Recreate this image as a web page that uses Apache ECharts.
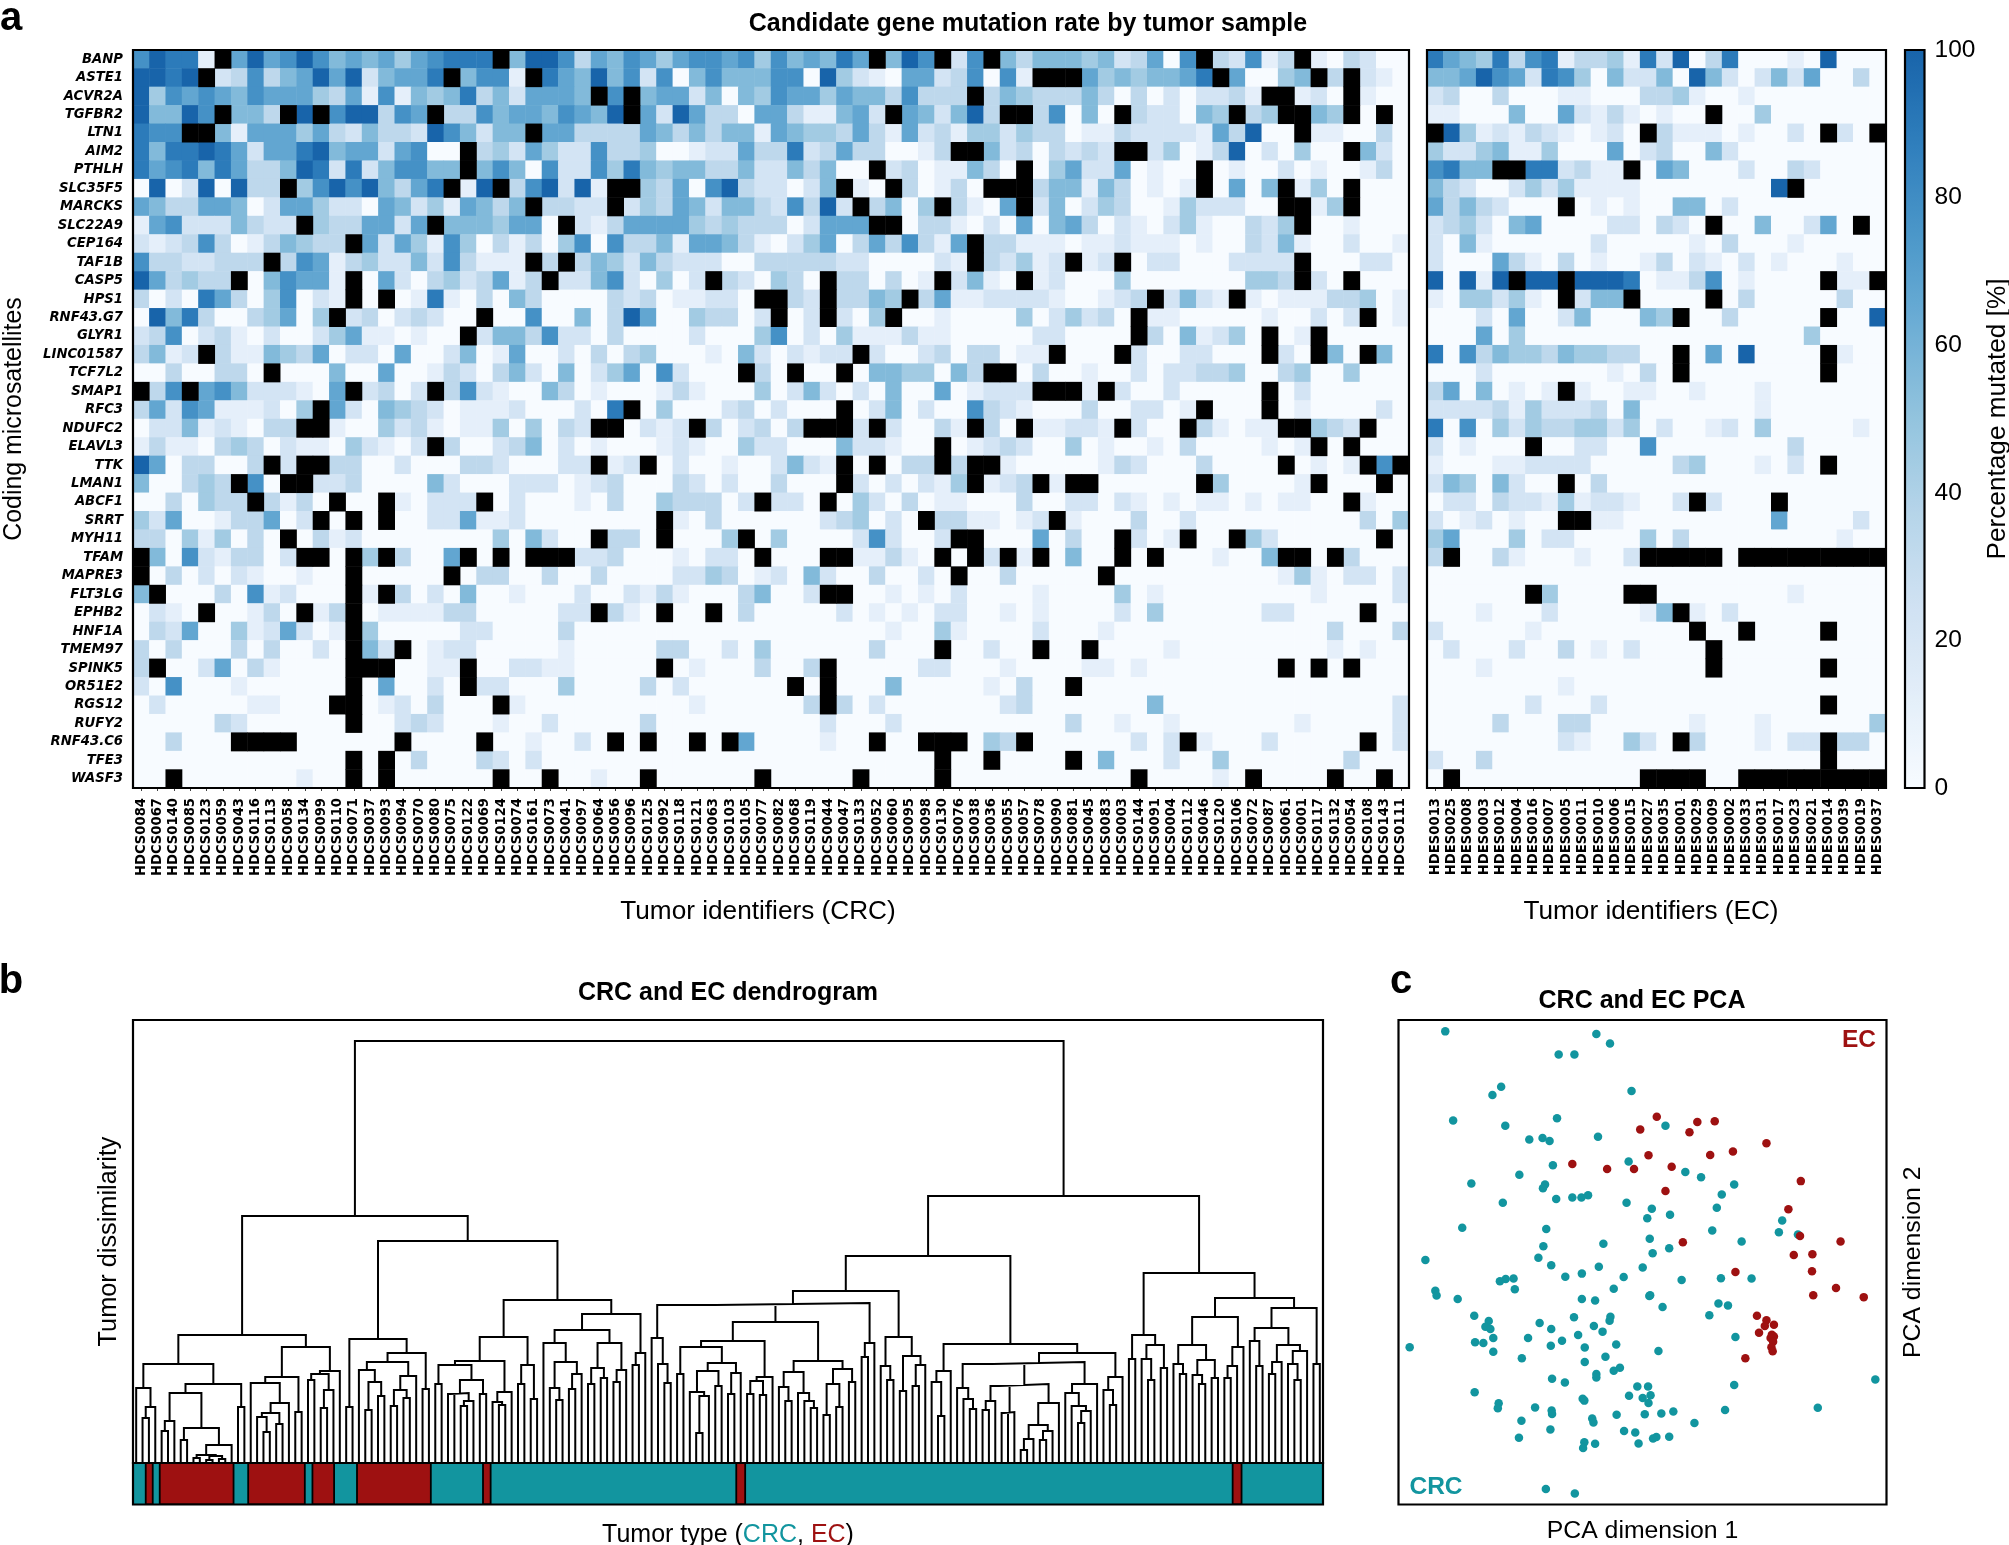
<!DOCTYPE html>
<html><head><meta charset="utf-8">
<style>html,body{margin:0;padding:0;background:#fff}#c{width:2009px;height:1545px}</style>
<script src="https://cdn.jsdelivr.net/npm/echarts@6/dist/echarts.min.js"></script>
</head><body><div id="c"></div>
<script>
const genes = ["BANP","ASTE1","ACVR2A","TGFBR2","LTN1","AIM2","PTHLH","SLC35F5","MARCKS","SLC22A9","CEP164","TAF1B","CASP5","HPS1","RNF43.G7","GLYR1","LINC01587","TCF7L2","SMAP1","RFC3","NDUFC2","ELAVL3","TTK","LMAN1","ABCF1","SRRT","MYH11","TFAM","MAPRE3","FLT3LG","EPHB2","HNF1A","TMEM97","SPINK5","OR51E2","RGS12","RUFY2","RNF43.C6","TFE3","WASF3"];
const crcSamples = "0084 0067 0140 0085 0123 0059 0043 0116 0113 0058 0134 0099 0110 0071 0037 0093 0094 0070 0080 0075 0122 0069 0124 0074 0161 0073 0041 0097 0064 0056 0096 0125 0092 0118 0121 0063 0103 0105 0077 0082 0068 0119 0044 0047 0133 0052 0060 0095 0098 0130 0076 0038 0036 0055 0057 0078 0090 0081 0045 0083 0003 0144 0091 0004 0112 0046 0120 0106 0072 0087 0061 0001 0117 0132 0054 0108 0143 0111".split(" ").map(s=>"HDCS"+s);
const ecSamples = "0013 0025 0008 0003 0012 0004 0016 0007 0005 0011 0010 0006 0015 0027 0035 0001 0029 0009 0002 0033 0031 0017 0023 0021 0014 0039 0019 0037".split(" ").map(s=>"HDES"+s);
// rate level per cell (0 = none ... 9 = highest), X = black cell
const crcLevels = [
"7 9 8 8 1 X 6 9 6 7 9 7 5 6 5 6 4 6 7 8 8 8 X 5 9 9 7 3 6 5 7 6 4 6 7  7 6 7 4 7 5 6 5 8 6 X 5 9 7 X 2 7 X 5 3 5 5 5 4 5 2 3 6 0 7 X 3 2 7 1 3 X 1 0 3 2 0 0",
"9 9 8 9 X 2 3 7 3 5 6 9 6 9 2 5 6 6 8 X 5 7 7 1 X 8 6 5 9 5 7 2 7 0 5  7 5 5 5 7 7 0 9 4 2 1 0 6 6 2 3 7 0 7 1 X X X 6 4 5 4 5 5 6 8 X 6 0 0 4 5 X 3 X 2 1 0",
"9 4 7 6 7 6 5 7 6 6 6 4 3 6 1 7 1 5 4 5 8 3 5 2 6 6 6 5 X 7 X 5 6 6 2  5 0 5 4 7 6 6 4 6 5 5 3 7 3 3 3 X 3 5 4 3 3 3 5 3 0 3 0 2 0 2 2 3 1 X X 1 2 0 X 1 0 0",
"9 5 5 9 7 X 5 5 3 X 9 X 7 9 9 3 7 6 X 3 3 7 5 6 6 5 7 6 5 9 X 6 2 9 6  3 3 0 6 6 3 1 1 5 6 2 X 6 5 2 5 9 3 X X 3 7 0 5 0 X 3 2 2 0 5 4 X 3 4 X X 5 4 X 0 X 0",
"8 7 7 X X 5 1 6 6 6 4 6 3 2 5 3 3 2 9 7 5 2 5 5 X 6 6 3 3 3 3 6 5 3 5  3 5 5 1 6 5 4 4 3 6 3 1 6 2 3 1 4 4 2 4 3 3 0 1 1 3 2 2 2 2 1 6 3 9 0 0 X 1 1 0 0 3 0",
"8 5 8 8 9 8 6 2 6 6 8 9 5 6 6 2 6 7 0 0 X 3 4 2 6 4 2 2 7 3 3 4 0 0 1  2 2 6 3 3 8 2 3 6 3 3 0 0 1 3 X X 5 2 3 0 3 2 3 2 X X 2 4 0 1 3 9 0 2 0 4 0 0 X 5 2 0",
"8 6 7 8 5 8 6 3 3 5 9 8 2 8 2 5 7 7 5 5 X 5 7 5 0 7 2 2 7 4 8 5 4 5 5  3 3 5 2 2 5 3 5 0 0 X 2 3 0 1 1 5 3 0 X 0 4 6 2 2 6 0 1 0 0 X 0 1 0 0 2 0 1 0 0 1 3 0",
"0 9 0 2 9 0 9 3 3 X 4 7 9 7 9 5 3 6 8 X 1 9 X 3 7 9 2 9 1 X X 4 3 6 0  7 9 3 2 2 0 2 5 X 1 0 X 3 0 1 3 0 X X X 3 5 5 1 5 3 0 1 0 1 X 0 6 0 5 X 1 4 0 X 0 0 0",
"6 5 3 3 6 6 5 0 2 6 6 4 2 2 0 6 5 2 4 1 6 5 3 5 X 3 3 2 2 X 2 4 3 6 5  2 5 5 3 2 7 3 9 2 X 3 5 0 4 X 3 1 0 6 X 2 5 0 2 4 3 0 0 1 4 2 2 2 0 0 X X 1 4 X 0 0 0",
"1 6 7 2 2 2 5 3 2 2 X 4 3 3 6 6 2 6 X 5 5 5 4 6 6 0 X 2 1 3 6 6 6 6 4  3 4 3 3 3 0 2 6 6 6 X X 0 3 3 1 0 2 0 6 0 5 6 3 0 2 1 0 2 4 1 0 0 3 2 4 X 0 0 1 0 0 0",
"2 1 2 3 7 3 0 1 3 5 4 3 3 X 6 2 6 4 1 7 4 0 3 1 3 0 4 7 0 7 3 3 5 1 6  6 5 3 1 0 2 4 6 0 3 6 3 7 3 1 6 X 3 3 1 1 1 0 1 1 2 1 1 1 0 1 0 0 3 2 5 1 0 0 2 0 0 1",
"7 3 3 2 2 3 3 3 X 3 7 6 1 3 4 2 2 5 2 7 3 1 1 1 X 3 X 3 5 4 2 5 3 2 2  2 0 0 3 3 3 3 3 2 2 0 0 0 0 2 1 X 3 2 4 1 2 X 1 2 X 0 2 2 0 0 0 2 2 2 2 X 0 0 0 2 2 0",
"9 6 3 4 3 3 X 0 5 7 6 6 1 X 0 6 2 0 3 4 2 3 6 1 3 X 2 2 5 7 2 0 4 0 2  X 3 2 0 4 3 0 X 3 3 0 3 0 1 X 2 5 1 0 X 1 2 0 0 0 4 0 0 0 0 0 0 0 4 4 3 X 2 0 X 0 0 0",
"3 0 2 0 8 6 3 0 4 7 0 2 1 X 0 X 0 1 8 1 0 3 0 5 3 0 0 0 0 3 2 3 0 1 1  2 2 0 X X 3 2 X 3 3 5 4 X 3 6 1 1 2 2 2 2 1 0 0 1 2 3 X 2 5 2 1 X 1 0 1 1 1 3 3 4 0 1",
"0 9 5 8 3 0 0 3 4 6 0 4 X 2 3 0 2 3 2 0 0 X 0 0 7 0 0 5 0 3 9 6 0 0 4  3 3 0 2 X 0 2 X 2 0 4 X 0 0 1 0 0 0 0 4 0 2 4 2 3 0 X 1 1 0 0 0 0 0 1 0 0 2 0 2 X 0 1",
"2 3 7 0 2 3 1 0 2 0 0 2 4 6 1 1 0 1 0 0 X 2 5 5 3 7 2 2 0 3 0 0 0 0 2  0 0 0 4 7 0 2 0 4 1 1 1 3 1 1 0 0 0 0 0 2 2 0 0 0 0 X 3 0 5 1 2 4 0 X 0 1 X 0 0 0 0 0",
"3 5 1 2 X 3 1 1 5 4 3 6 0 2 2 0 6 0 0 2 5 0 1 6 0 0 2 0 3 0 3 4 0 0 0  1 0 5 2 0 2 1 2 2 X 2 0 0 2 3 0 3 3 0 1 1 X 0 0 0 X 2 0 0 2 2 0 0 0 X 2 0 X 5 0 X 5 0",
"0 0 3 0 0 3 3 0 X 0 0 0 5 0 0 6 0 0 1 3 2 0 3 5 2 0 5 0 2 4 6 0 7 2 0  0 0 X 3 0 X 0 0 X 0 5 5 4 4 0 5 3 X X 0 3 0 0 1 0 0 2 0 2 2 3 3 4 0 0 3 4 0 0 4 0 0 0",
"X 3 7 X 6 7 5 2 2 2 1 0 6 X 2 3 0 2 X 3 7 2 1 0 0 5 3 0 1 0 0 0 1 3 1  0 0 0 4 0 2 5 2 0 2 0 5 0 0 6 0 1 2 2 2 X X X 1 X 2 0 0 2 0 0 0 0 0 X 0 2 0 0 0 0 0 0",
"3 6 2 7 6 1 1 1 2 0 4 X 6 2 0 5 4 3 2 0 1 1 1 2 0 0 0 2 0 8 X 0 4 0 0  0 2 3 0 2 0 0 0 X 0 2 5 0 2 0 0 7 3 2 1 0 0 0 3 0 0 2 2 0 1 X 0 0 0 X 0 1 0 0 0 0 2 0",
"0 2 2 5 1 2 1 0 3 3 X X 1 0 0 4 2 3 1 0 1 1 4 0 4 0 3 2 X X 0 2 1 2 X  3 0 2 3 0 3 X X X 2 X 2 0 0 3 1 X 3 0 X 1 1 2 2 1 X 2 0 0 X 3 1 0 1 1 X X 4 3 2 X 0 0",
"1 3 1 1 0 3 4 3 0 2 1 1 0 4 2 1 0 2 X 3 0 0 2 3 5 0 2 0 1 0 0 0 1 2 1  0 0 4 2 2 0 0 0 5 2 2 1 0 0 X 0 1 2 3 2 0 0 4 0 1 0 0 1 0 3 0 0 0 0 1 0 1 X 0 X 0 0 0",
"9 6 0 3 3 0 0 3 X 2 X X 3 3 0 0 2 0 0 0 3 3 2 0 0 0 2 2 X 1 2 X 0 2 0  0 1 0 0 2 5 2 1 X 0 X 0 3 3 X 3 X X 1 0 0 0 0 0 1 3 2 0 0 0 3 0 0 0 0 X 0 1 0 1 X 7 X",
"5 0 0 3 4 3 X 7 0 X X 2 2 3 0 0 0 0 5 2 0 0 0 2 2 2 0 1 2 3 0 0 0 3 2  0 2 0 0 3 0 0 0 X 2 0 2 0 2 1 4 X 1 2 3 X 1 X X 0 0 0 0 0 0 X 4 0 0 0 0 1 X 0 0 0 X 0",
"0 0 3 0 4 3 3 X 3 1 3 0 X 0 0 X 1 0 2 2 2 X 0 2 0 0 0 1 0 3 0 0 4 3 3  3 0 2 X 2 2 0 X 0 4 2 0 3 0 1 1 0 0 0 3 0 0 2 2 0 2 1 0 1 0 1 1 0 1 0 1 1 0 0 X 1 0 0",
"4 2 6 0 0 1 3 3 6 0 2 X 0 X 0 X 0 0 2 2 6 1 1 2 0 0 0 0 0 0 0 0 X 1 0  3 0 0 0 0 0 0 2 3 4 0 2 0 X 3 3 1 1 0 1 2 X 1 0 0 0 3 0 0 2 0 0 0 0 0 0 0 0 0 0 3 0 4",
"3 3 0 4 1 4 0 3 0 X 0 3 1 2 0 0 0 0 0 0 0 0 4 0 5 2 0 0 X 3 3 0 X 0 0  0 4 X 0 4 0 0 0 0 2 7 2 0 0 2 X X 0 0 0 6 0 3 0 0 X 2 0 1 X 0 0 X 4 2 0 0 0 0 0 0 X 0",
"X 5 0 7 2 1 3 3 0 2 X X 0 X 4 X 3 0 0 6 X 0 X 0 X X X 2 2 3 0 0 0 1 0  2 2 0 X 0 0 0 X X 1 1 3 1 0 X 0 X 2 X 1 X 0 5 0 0 X 0 X 0 0 0 1 0 0 5 X X 0 X 3 0 0 0",
"X 0 3 0 2 0 2 1 0 0 1 0 0 X 0 0 0 0 0 X 0 3 3 0 0 3 0 0 3 0 0 0 0 2 2  4 3 0 1 2 0 5 2 0 0 3 0 0 2 0 X 0 0 3 0 0 0 0 0 X 0 0 0 0 0 0 0 0 0 0 1 4 1 0 2 2 0 2",
"5 X 0 0 0 3 0 7 1 2 0 0 0 X 1 X 3 0 2 0 5 0 0 1 0 0 0 2 0 0 2 1 3 1 0  0 0 3 5 0 0 2 X X 0 0 1 0 1 0 2 0 0 0 0 1 0 0 0 0 4 0 1 0 0 0 0 0 0 0 0 0 1 0 0 0 0 2",
"0 2 1 0 X 0 0 1 3 0 X 1 3 X 0 1 1 1 1 3 3 0 0 0 0 0 2 2 X 3 1 0 X 0 0  X 0 3 0 0 0 0 0 2 0 1 0 1 0 2 2 0 0 1 0 1 0 0 0 0 2 0 4 0 0 0 0 0 0 2 2 0 0 0 0 X 0 0",
"0 3 2 6 0 0 4 1 2 6 2 0 1 X 4 0 0 0 0 0 2 2 0 0 0 0 3 0 0 0 0 0 0 0 0  0 0 0 0 0 0 0 0 0 0 0 1 0 0 4 1 0 0 0 0 2 0 0 0 1 0 0 0 0 0 0 0 0 0 0 0 0 0 3 0 0 0 3",
"3 0 3 0 0 0 3 0 3 0 0 2 0 X 5 2 X 0 1 2 2 0 0 0 0 0 1 0 0 0 0 0 3 3 0  0 2 0 4 0 0 0 0 0 0 3 0 0 0 X 0 0 2 0 0 X 0 0 X 0 0 0 0 1 0 0 0 0 0 0 0 0 0 1 0 1 0 0",
"3 X 0 0 2 6 0 3 1 0 0 0 0 X X X 0 0 1 1 X 0 0 2 2 1 1 0 0 0 0 0 X 0 1  0 0 0 3 0 0 3 X 0 0 0 0 0 2 2 0 0 0 1 0 0 0 0 1 1 0 1 0 0 0 0 0 0 0 0 X 0 X 0 X 0 0 0",
"2 0 7 0 0 0 1 0 0 0 0 0 0 X 0 6 0 0 2 0 X 2 2 0 0 0 4 0 0 0 0 3 0 2 0  0 0 0 0 0 X 0 X 0 0 0 5 0 0 0 0 0 1 0 3 0 0 X 0 0 0 0 0 0 0 0 0 0 0 0 0 0 0 0 0 0 0 0",
"0 2 0 0 0 0 0 1 1 0 0 0 X X 0 1 2 0 3 0 0 0 X 1 0 0 0 0 0 0 0 0 0 0 1  0 0 0 0 0 0 3 X 3 0 2 0 0 0 0 0 0 0 2 3 0 0 0 0 0 0 0 5 0 0 0 0 0 0 0 0 0 0 0 0 0 0 2",
"0 0 0 0 0 3 2 0 0 0 0 0 0 X 0 0 2 3 2 0 0 0 1 0 0 2 0 0 0 0 0 3 0 0 0  0 0 0 0 0 0 0 2 0 0 0 2 0 0 0 0 0 0 0 0 0 0 3 0 0 1 0 0 1 0 0 0 0 0 0 0 1 0 0 0 0 0 2",
"0 0 3 0 0 0 X X X X 0 0 0 0 0 0 X 0 0 0 0 X 0 0 1 0 0 2 0 X 0 X 0 0 X  0 X 6 0 0 0 0 1 0 0 X 0 0 X X X 0 4 3 X 0 0 0 0 0 0 2 0 2 X 1 0 0 0 2 0 0 0 0 0 X 0 2",
"0 0 0 0 0 0 0 0 0 0 0 0 0 X 0 X 0 3 0 0 0 3 2 0 2 0 0 0 0 0 0 0 0 0 0  0 0 0 0 0 0 0 0 0 0 0 0 0 0 X 0 0 X 0 0 0 0 X 0 5 0 0 0 2 0 0 4 0 0 0 0 0 0 0 3 0 0 0",
"0 0 X 0 0 0 0 0 0 0 1 0 0 X 0 X 0 0 0 0 0 0 X 0 0 X 0 0 1 0 0 X 0 0 0  0 0 0 X 0 0 0 0 0 X 0 0 0 0 X 0 0 0 0 0 0 0 0 0 0 0 X 0 0 0 0 1 0 X 0 0 0 0 X 0 0 X 0"
];
const ecLevels = [
"8 6 5 4 8 3 7 8 1 3 3 4 1 8 2 9 0 3 8 0 0 0 1 0 9 0 0 0",
"5 5 6 9 7 6 2 8 7 4 0 5 2 2 5 0 9 5 2 0 2 5 2 6 0 0 3 0",
"2 3 0 0 3 0 0 0 1 1 0 0 0 3 3 4 1 0 0 1 0 0 0 0 0 0 0 0",
"1 1 0 0 0 5 0 0 6 2 1 3 1 0 1 0 0 X 0 0 4 0 0 0 0 0 0 0",
"X 9 4 1 2 1 3 2 1 0 1 2 0 X 3 1 1 1 0 1 0 0 2 0 X 2 0 X",
"4 2 2 4 5 1 1 4 0 0 0 6 0 2 3 0 0 5 2 0 0 0 0 0 0 0 0 0",
"7 8 5 5 X X 8 8 2 3 1 1 X 0 6 5 0 0 0 2 0 0 3 2 0 0 0 0",
"5 3 2 0 0 2 4 2 4 1 1 1 1 0 0 0 0 0 0 0 0 9 X 0 0 0 0 0",
"6 3 5 3 2 0 0 0 X 0 1 0 1 0 0 5 5 0 2 0 0 0 0 0 0 0 0 0",
"2 3 4 2 0 5 6 0 0 0 0 2 2 0 3 2 0 X 0 0 5 0 0 2 6 0 X 0",
"2 0 5 1 0 0 0 0 0 0 2 0 0 0 0 0 1 0 3 0 0 0 1 0 0 0 0 0",
"2 0 0 0 6 3 1 0 3 0 1 0 0 1 3 0 2 1 0 2 0 1 0 0 0 1 0 0",
"9 0 9 1 9 X 9 9 X 9 9 9 8 0 1 1 3 7 0 1 0 0 0 0 X 1 1 X",
"1 0 4 4 2 4 1 0 X 2 5 5 X 0 0 0 0 X 0 3 0 0 0 0 0 3 0 0",
"0 0 0 2 0 6 0 0 2 5 0 0 0 5 4 X 0 0 3 0 0 0 0 0 X 0 0 9",
"0 0 0 6 0 4 0 0 0 0 0 0 0 0 0 0 0 0 0 0 0 0 0 4 0 0 0 0",
"8 0 7 3 5 4 4 3 5 4 4 3 3 0 0 X 0 6 0 9 0 0 0 0 X 1 0 0",
"0 0 0 2 0 0 0 0 0 0 0 1 0 3 0 X 0 0 0 0 0 0 0 0 X 0 0 0",
"3 6 0 5 0 1 0 1 X 1 0 0 1 1 0 0 1 0 0 0 1 0 0 0 0 0 0 0",
"2 2 2 2 3 1 4 2 2 2 3 0 5 0 0 0 0 0 0 0 1 0 0 0 0 0 0 0",
"8 0 7 0 4 2 4 3 3 4 4 2 4 0 2 0 0 1 2 0 4 0 0 0 0 0 1 0",
"2 0 1 0 0 0 X 0 0 2 2 0 0 7 0 0 0 0 0 0 0 0 3 0 0 0 0 0",
"1 0 0 0 1 1 2 2 2 2 0 0 0 0 0 3 4 0 0 0 1 0 2 0 X 0 0 0",
"2 5 4 0 5 2 0 0 X 0 3 0 0 0 0 0 0 0 0 0 0 0 0 0 0 0 0 0",
"0 2 2 0 3 2 2 1 4 1 2 2 1 0 0 2 X 2 0 0 0 X 0 0 0 0 0 0",
"2 0 1 2 0 1 0 0 X X 1 1 0 0 0 0 0 0 0 0 0 6 0 0 0 0 2 0",
"4 6 0 0 0 4 0 2 2 0 0 0 0 4 0 3 0 0 0 0 0 0 0 0 0 1 0 0",
"3 X 0 0 3 1 0 0 0 1 0 0 2 X X X X X 0 X X X X X X X X X",
"0 0 0 0 0 0 0 0 0 0 0 0 0 0 0 0 0 0 0 0 0 0 0 0 0 0 0 0",
"0 0 0 0 0 0 X 4 0 0 0 0 X X 0 0 0 0 0 0 0 0 1 0 0 0 0 0",
"0 0 0 1 0 0 0 2 0 0 0 0 0 1 5 X 1 0 2 0 0 0 0 0 0 0 0 0",
"2 0 0 0 0 0 1 0 0 0 0 0 0 0 0 0 X 0 0 X 0 0 0 0 X 0 0 0",
"0 2 0 0 0 2 0 0 3 0 1 0 2 0 0 0 0 X 0 0 0 0 0 0 0 0 0 0",
"0 0 0 1 0 0 0 0 0 0 0 0 0 0 0 0 0 X 0 0 0 0 0 0 X 0 0 0",
"0 0 0 0 0 0 0 0 1 0 0 0 0 0 0 0 0 0 0 0 0 0 0 0 0 0 0 0",
"0 0 0 0 0 0 2 0 0 0 2 0 0 0 0 0 0 0 0 0 0 0 0 0 X 0 0 0",
"0 0 0 0 3 0 0 0 3 3 0 0 0 0 0 0 1 0 0 0 1 0 0 0 0 0 0 4",
"0 0 0 0 0 0 0 0 2 1 0 0 4 2 0 X 3 0 0 0 1 0 2 2 X 3 3 0",
"2 0 0 3 0 0 0 0 0 0 0 0 0 0 0 0 0 0 0 0 0 0 0 0 X 0 0 0",
"0 X 0 0 0 0 0 0 0 0 0 0 0 X X X X 0 0 X X X X X X X X X"
];
// dendrogram as nested [height, left, right]; 0 = a single tumor (leaf)
const clusterAL = [128,
  [99,[75,0,[56,[45,0,0],0]],[79,[70,[42,[32,0,0],0],[35,[23,0,0],[18,[8,[5,0,0],[7,[3,0,0],[4,0,0]]],0]]],[56,0,0]]],
  [116,[86,[80,0,[60,[50,[46,0,[31,0,0]],[39,0,0]],0]],[51,0,0]],[92,[89,[83,0,0],[73,[55,0,0],0]],0]]];
const clusterARL = [124,[56,0,0],[110,[101,[93,0,[81,[53,0,0],[67,0,0]]],[87,[73,[57,0,0],[65,0,0]],0]],[74,0,0]]];
const clusterARR = [163,
  [126,[102,[98,[79,0,0],[83,[70,[69,0,0],[62,[57,0,0],0]],[69,0,0]]],[71,[61,0,[58,0,0]],0]],[98,[79,0,0],[64,0,0]]],
  [149,[133,[120,0,[101,[75,0,[63,0,0]],[89,[74,0,0],0]]],[120,[95,[79,0,0],[85,0,0]],[93,[81,0,0],0]]],[110,[98,0,0],0]]];
const cluster122 = [122,[116,[89,0,0],[100,[92,[71,0,[67,[30,0,0],0]],[77,0,0]],[90,[69,0,0],0]]],[86,[82,[69,0,0],[68,0,0]],0]];
const cluster102 = [102,[91,[76,0,[62,0,0]],[70,0,[62,0,[55,0,0]]]],[94,[79,[48,0,0],[56,0,0]],[81,0,0]]];
const clusterBLL = [172,
  [160,[158,[125,0,[99,0,[80,0,0]]],[141,cluster122,cluster102]],[120,[106,0,0],0]],
  [126,[97,0,[83,0,0]],[107,[72,0,0],[98,[77,0,0],0]]]];
const cluster99 = [99,[75,0,[64,0,[54,0,0]]],[79,[77,[62,[53,0,0],0],[51,[50,0,0],0]],[60,[38,[24,[13,0,0],0],[32,[23,0,0],0]],0]]];
const cluster79 = [79,[70,0,[57,0,[52,[40,0,0],0]]],0];
const clusterBLR = [119,[92,[81,0,[47,0,0]],0],[110,[101,cluster99,cluster79],[86,[73,0,[58,0,0]],0]]];
const clusterBR = [190,[128,[104,0,0],[118,[104,0,[83,0,0]],[95,0,0]]],
  [165,[146,[118,[99,0,[89,0,0]],[103,[88,0,[79,0,0]],[85,0,0]]],[116,[97,[85,0,0],0],0]],
       [155,[135,[122,0,[97,0,0]],[118,[101,[89,0,0],0],[112,[99,0,[83,0,0]],0]]],[99,0,0]]]];
const dendrogram = [422,[247,[128,clusterAL[1],clusterAL[2]],[222,clusterARL,clusterARR]],[267,[207,clusterBLL,clusterBLR],clusterBR]];
// EC stretches of the tumor-type strip, in leaf positions; the rest is CRC
const ecStretches = [[2,3.1],[4.2,15.8],[18.1,27],[28.2,31.6],[35.2,46.8],[55,56.2],[94.8,96.2],[172.8,174.2]];
// PCA scores (arbitrary units, dimension 2 increases downward)
const pcaCRC = [[206,213],[571,220],[604,245],[480,274],[518,274],[341,359],[320,381],[656,370],[225,448],[351,462],[476,442],[738,462],[409,498],[441,494],[458,502],[575,491],[649,556],[466,566],[385,591],[269,614],[447,617],[442,627],[786,584],[824,598],[904,617],[874,643],[474,655],[513,651],[535,651],[551,645],[345,665],[644,665],[862,678],[705,681],[749,697],[694,706],[1020,712],[247,731],[450,734],[851,738],[1012,743],[1058,749],[700,760],[922,767],[588,773],[443,780],[747,785],[707,798],[158,816],[431,810],[462,830],[577,834],[683,836],[536,852],[496,860],[637,861],[352,866],[371,865],[338,872],[777,869],[872,864],[946,865],[374,893],[613,892],[182,897],[185,910],[236,919],[699,911],[701,909],[536,919],[568,923],[866,931],[889,936],[731,940],[276,963],[517,967],[844,962],[605,966],[603,976],[311,977],[434,982],[565,990],[303,992],[315,998],[462,998],[586,1005],[527,1014],[406,1022],[322,1022],[907,1019],[278,1033],[298,1035],[488,1029],[619,1039],[461,1042],[120,1046],[543,1047],[322,1058],[721,1056],[391,1075],[593,1071],[543,1085],[628,1100],[613,1108],[571,1117],[571,1126],[1245,1131],[464,1129],[495,1139],[904,1146],[670,1150],[696,1150],[277,1165],[702,1173],[650,1174],[683,1180],[538,1182],[542,1187],[697,1193],[335,1194],[333,1207],[423,1205],[1106,1206],[463,1213],[464,1222],[882,1212],[757,1216],[728,1221],[688,1223],[620,1224],[561,1234],[564,1245],[390,1240],[808,1246],[460,1263],[638,1267],[665,1271],[384,1285],[716,1283],[708,1287],[747,1282],[542,1297],[568,1301],[673,1300],[539,1312],[449,1420],[519,1432]];
const pcaEC = [[717,438],[677,472],[815,452],[857,450],[796,479],[982,508],[901,530],[846,539],[697,540],[513,563],[597,576],[662,576],[753,570],[1065,608],[738,634],[1035,682],[1063,753],[780,769],[1161,767],[1048,803],[1093,801],[907,848],[1092,846],[1150,890],[1095,909],[1217,914],[959,963],[982,975],[978,990],[1000,987],[964,1008],[995,1013],[1000,1018],[992,1022],[998,1032],[994,1046],[997,1057],[931,1075]];
const colorTicks = [0,20,40,60,80,100];

const TEAL = '#12959f', RED = '#9e1111';
const SANS = '"Liberation Sans", Arial, sans-serif', DEJA = '"DejaVu Sans", sans-serif';
const BLUES = ['#f7fbff','#e3eef9','#cfe1f2','#b5d4e9','#93c4de','#6daed5','#4b97c9','#2f7ebc','#1864aa'];

function cells(levels){
  const rates = [], missing = [];
  levels.forEach((row,y)=>row.trim().split(/\s+/).forEach((v,x)=>{
    if (v==='X') missing.push([x,y,1]); else rates.push([x,y,Math.min(100,+v*100/9)]);
  }));
  return {rates,missing};
}
const crc = cells(crcLevels), ec = cells(ecLevels);

// lay the tree out: leaves in order, each merge midway between its two children
let leafCount = 0; const links = [];
function place(n){
  if (n===0) return {x:(leafCount++)+0.5,h:0};
  const a = place(n[1]), b = place(n[2]);
  links.push([a.x,a.h],[a.x,n[0]],[b.x,n[0]],[b.x,b.h],null);
  return {x:(a.x+b.x)/2,h:n[0]};
}
place(dendrogram);

function heatX(cats,g){return {type:'category',gridIndex:g,data:cats,boundaryGap:true,axisLine:{show:false},
  axisTick:{show:true,length:3,alignWithLabel:true,lineStyle:{color:'#444',width:1}},splitLine:{show:false},
  axisLabel:{interval:0,rotate:90,margin:10,fontFamily:DEJA,fontWeight:'bold',fontSize:13.2,color:'#000'}};}
function bare(o){return Object.assign({axisLine:{show:false},axisTick:{show:false},axisLabel:{show:false},splitLine:{show:false}},o);}
function label(text,x,y,size,extra){return {text,left:x,top:y,padding:0,textAlign:'center',textVerticalAlign:'middle',
  textStyle:Object.assign({fontFamily:SANS,fontSize:size,fontWeight:'normal',color:'#000'},extra||{})};}
function nameFont(size){return {fontFamily:SANS,fontSize:size,color:'#000'};}
const frame = {show:true,borderColor:'#000',borderWidth:2.2,backgroundColor:'transparent',z:5,outerBoundsMode:'none',containLabel:false};

const option = {
  animation:false, backgroundColor:'#fff',
  title:[
    label('a',11,19,40,{fontWeight:'bold'}),
    label('b',11,982,40,{fontWeight:'bold'}),
    label('c',1401,982,40,{fontWeight:'bold'}),
    label('Candidate gene mutation rate by tumor sample',1028,24,25,{fontWeight:'bold'}),
    label('Tumor identifiers (CRC)',758,912,26.2),
    label('Tumor identifiers (EC)',1651,912,26.2),
    label('CRC and EC dendrogram',728,993.5,25,{fontWeight:'bold'}),
    label('CRC and EC PCA',1642,1001.5,25,{fontWeight:'bold'}),
    label('CRC',1436,1487.5,24.5,{fontWeight:'bold',color:TEAL}),
    label('EC',1859,1040,24.5,{fontWeight:'bold',color:RED})
  ],
  grid:[
    Object.assign({left:133,top:50,width:1276,height:738},frame),
    Object.assign({left:1427,top:50,width:459,height:738},frame),
    Object.assign({left:1905,top:50,width:19.5,height:738},frame),
    Object.assign({left:133,top:1020,width:1190,height:443},frame),
    Object.assign({left:133,top:1463,width:1190,height:41.5},frame),
    Object.assign({left:1398.5,top:1020,width:488,height:484.5},frame)
  ],
  xAxis:[
    heatX(crcSamples,0),
    heatX(ecSamples,1),
    bare({type:'value',gridIndex:2,min:0,max:1}),
    bare({type:'value',gridIndex:3,min:0,max:leafCount}),
    bare({type:'value',gridIndex:4,min:0,max:leafCount,name:'Tumor type ({c|CRC}, {e|EC})',nameLocation:'middle',nameGap:18,
      nameTextStyle:Object.assign(nameFont(25),{rich:{c:{color:TEAL,fontFamily:SANS,fontSize:25},e:{color:RED,fontFamily:SANS,fontSize:25}}})}),
    bare({type:'value',gridIndex:5,min:93,max:1272,name:'PCA dimension 1',nameLocation:'middle',nameGap:14,nameTextStyle:nameFont(24.8)})
  ],
  yAxis:[
    {type:'category',gridIndex:0,data:genes,inverse:true,axisLine:{show:false},axisTick:{show:false},splitLine:{show:false},
      axisLabel:{interval:0,margin:10,fontFamily:DEJA,fontWeight:'bold',fontStyle:'italic',fontSize:13.2,color:'#000'},
      name:'Coding microsatellites',nameLocation:'middle',nameGap:106,nameRotate:90,nameTextStyle:nameFont(24.9)},
    bare({type:'category',gridIndex:1,data:genes,inverse:true}),
    {type:'value',gridIndex:2,position:'right',min:colorTicks[0],max:colorTicks[colorTicks.length-1],interval:20,
      axisLine:{show:false},axisTick:{show:true,length:3,lineStyle:{color:'#000',width:1}},splitLine:{show:false},
      axisLabel:{margin:10,fontFamily:SANS,fontSize:24.5,color:'#000'},
      name:'Percentage mutated [%]',nameLocation:'middle',nameGap:60,nameRotate:90,nameTextStyle:nameFont(26.2)},
    bare({type:'value',gridIndex:3,min:0,max:443,name:'Tumor dissimilarity',nameLocation:'middle',nameGap:11,nameRotate:90,nameTextStyle:nameFont(25.3)}),
    bare({type:'value',gridIndex:4,min:0,max:1}),
    bare({type:'value',gridIndex:5,position:'right',min:183,max:1461,inverse:true,name:'PCA dimension 2',nameLocation:'middle',nameGap:14,nameRotate:90,nameTextStyle:nameFont(24.8)})
  ],
  visualMap:[{type:'continuous',seriesIndex:[0,2],min:0,max:100,calculable:false,realtime:false,hoverLink:false,
    left:1905,top:50,itemWidth:19.5,itemHeight:738,padding:0,text:['',''],showLabel:false,
    inRange:{color:BLUES},textStyle:{fontSize:0}}],
  series:[
    {type:'heatmap',xAxisIndex:0,yAxisIndex:0,data:crc.rates,itemStyle:{borderWidth:0},emphasis:{disabled:true},progressive:0},
    {type:'heatmap',xAxisIndex:0,yAxisIndex:0,data:crc.missing,itemStyle:{color:'#000'},emphasis:{disabled:true},progressive:0},
    {type:'heatmap',xAxisIndex:1,yAxisIndex:1,data:ec.rates,itemStyle:{borderWidth:0},emphasis:{disabled:true},progressive:0},
    {type:'heatmap',xAxisIndex:1,yAxisIndex:1,data:ec.missing,itemStyle:{color:'#000'},emphasis:{disabled:true},progressive:0},
    {type:'line',xAxisIndex:3,yAxisIndex:3,data:links,showSymbol:false,symbol:'none',connectNulls:false,smooth:false,clip:false,
      lineStyle:{color:'#000',width:2,join:'miter',cap:'square'},emphasis:{disabled:true},silent:true},
    {type:'custom',xAxisIndex:4,yAxisIndex:4,clip:true,silent:true,
      data:[[0,leafCount,0]].concat(ecStretches.map(s=>[s[0],s[1],1])),
      encode:{x:[0,1]},
      renderItem:(p,api)=>{
        const a=api.coord([api.value(0),1]), b=api.coord([api.value(1),0]), red=api.value(2)===1;
        return {type:'rect',shape:{x:a[0],y:a[1],width:b[0]-a[0],height:b[1]-a[1]},
          style:{fill:red?RED:TEAL,stroke:red?'#000':null,lineWidth:red?1.8:0}};
      }},
    {type:'scatter',xAxisIndex:5,yAxisIndex:5,data:pcaCRC,symbolSize:8.5,itemStyle:{color:TEAL,opacity:1},silent:true},
    {type:'scatter',xAxisIndex:5,yAxisIndex:5,data:pcaEC,symbolSize:8.5,itemStyle:{color:RED,opacity:1},silent:true}
  ]
};
echarts.init(document.getElementById('c'),null,{renderer:'canvas'}).setOption(option);
</script></body></html>
